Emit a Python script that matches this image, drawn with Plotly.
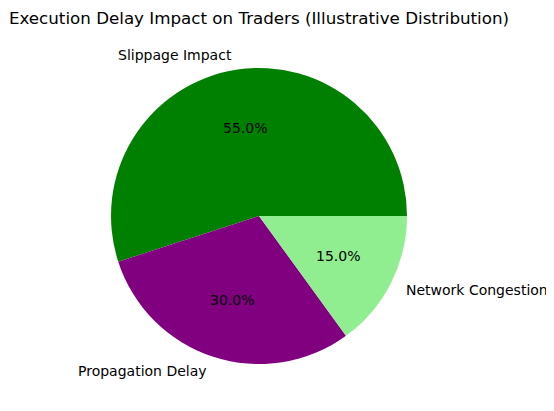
import math
import plotly.graph_objects as go

labels = ["Slippage Impact", "Propagation Delay", "Network Congestion"]
values = [55, 30, 15]
colors = ["#008000", "#800080", "#90EE90"]
title = "Execution Delay Impact on Traders (Illustrative Distribution)"

# page body has an 8px margin, so the figure is drawn 8px in from the corner
OFF = 8
W, H = 554 - OFF, 411 - OFF
cx_px, cy_px, r_px = 259 - OFF, 216 - OFF, 148
dom_x = [(cx_px - r_px) / W, (cx_px + r_px) / W]
dom_y = [1 - (cy_px + r_px) / H, 1 - (cy_px - r_px) / H]

total = sum(values)
# plotly places the first counterclockwise slice so that it ends at `rotation`;
# shift so the first slice starts at 3 o'clock as in the reference
rot = 90 - 360 * values[0] / total

fig = go.Figure(go.Pie(
    labels=labels, values=values, sort=False, direction="counterclockwise",
    rotation=rot, marker=dict(colors=colors, line=dict(width=0)),
    textinfo="none", hoverinfo="label+percent", showlegend=False,
    domain=dict(x=dom_x, y=dom_y),
))

start = 0.0
annotations = []
for lab, v in zip(labels, values):
    frac = v / total
    mid = math.radians((start + frac / 2) * 360)
    start += frac
    lx = cx_px + 1.1 * r_px * math.cos(mid)
    ly = cy_px - 1.1 * r_px * math.sin(mid)
    annotations.append(dict(
        x=lx / W, y=1 - ly / H, xref="paper", yref="paper", text=lab,
        showarrow=False, xanchor="left" if math.cos(mid) > 0 else "right",
        yanchor="middle", font=dict(size=14, color="black")))
    px = cx_px + 0.6 * r_px * math.cos(mid)
    py = cy_px - 0.6 * r_px * math.sin(mid)
    annotations.append(dict(
        x=px / W, y=1 - py / H, xref="paper", yref="paper",
        text=f"{frac*100:.1f}%", showarrow=False, xanchor="center",
        yanchor="middle", font=dict(size=14, color="black")))

fig.update_layout(
    width=W, height=H, margin=dict(l=0, r=0, t=0, b=0),
    paper_bgcolor="white", plot_bgcolor="white",
    font=dict(family="DejaVu Sans", color="black"),
    title=dict(text=title, x=(259 - OFF) / W, xanchor="center",
               y=1 - (18 - OFF) / H, yanchor="middle",
               font=dict(size=16.7, color="black")),
    annotations=annotations,
)

fig.write_html("out.html")
